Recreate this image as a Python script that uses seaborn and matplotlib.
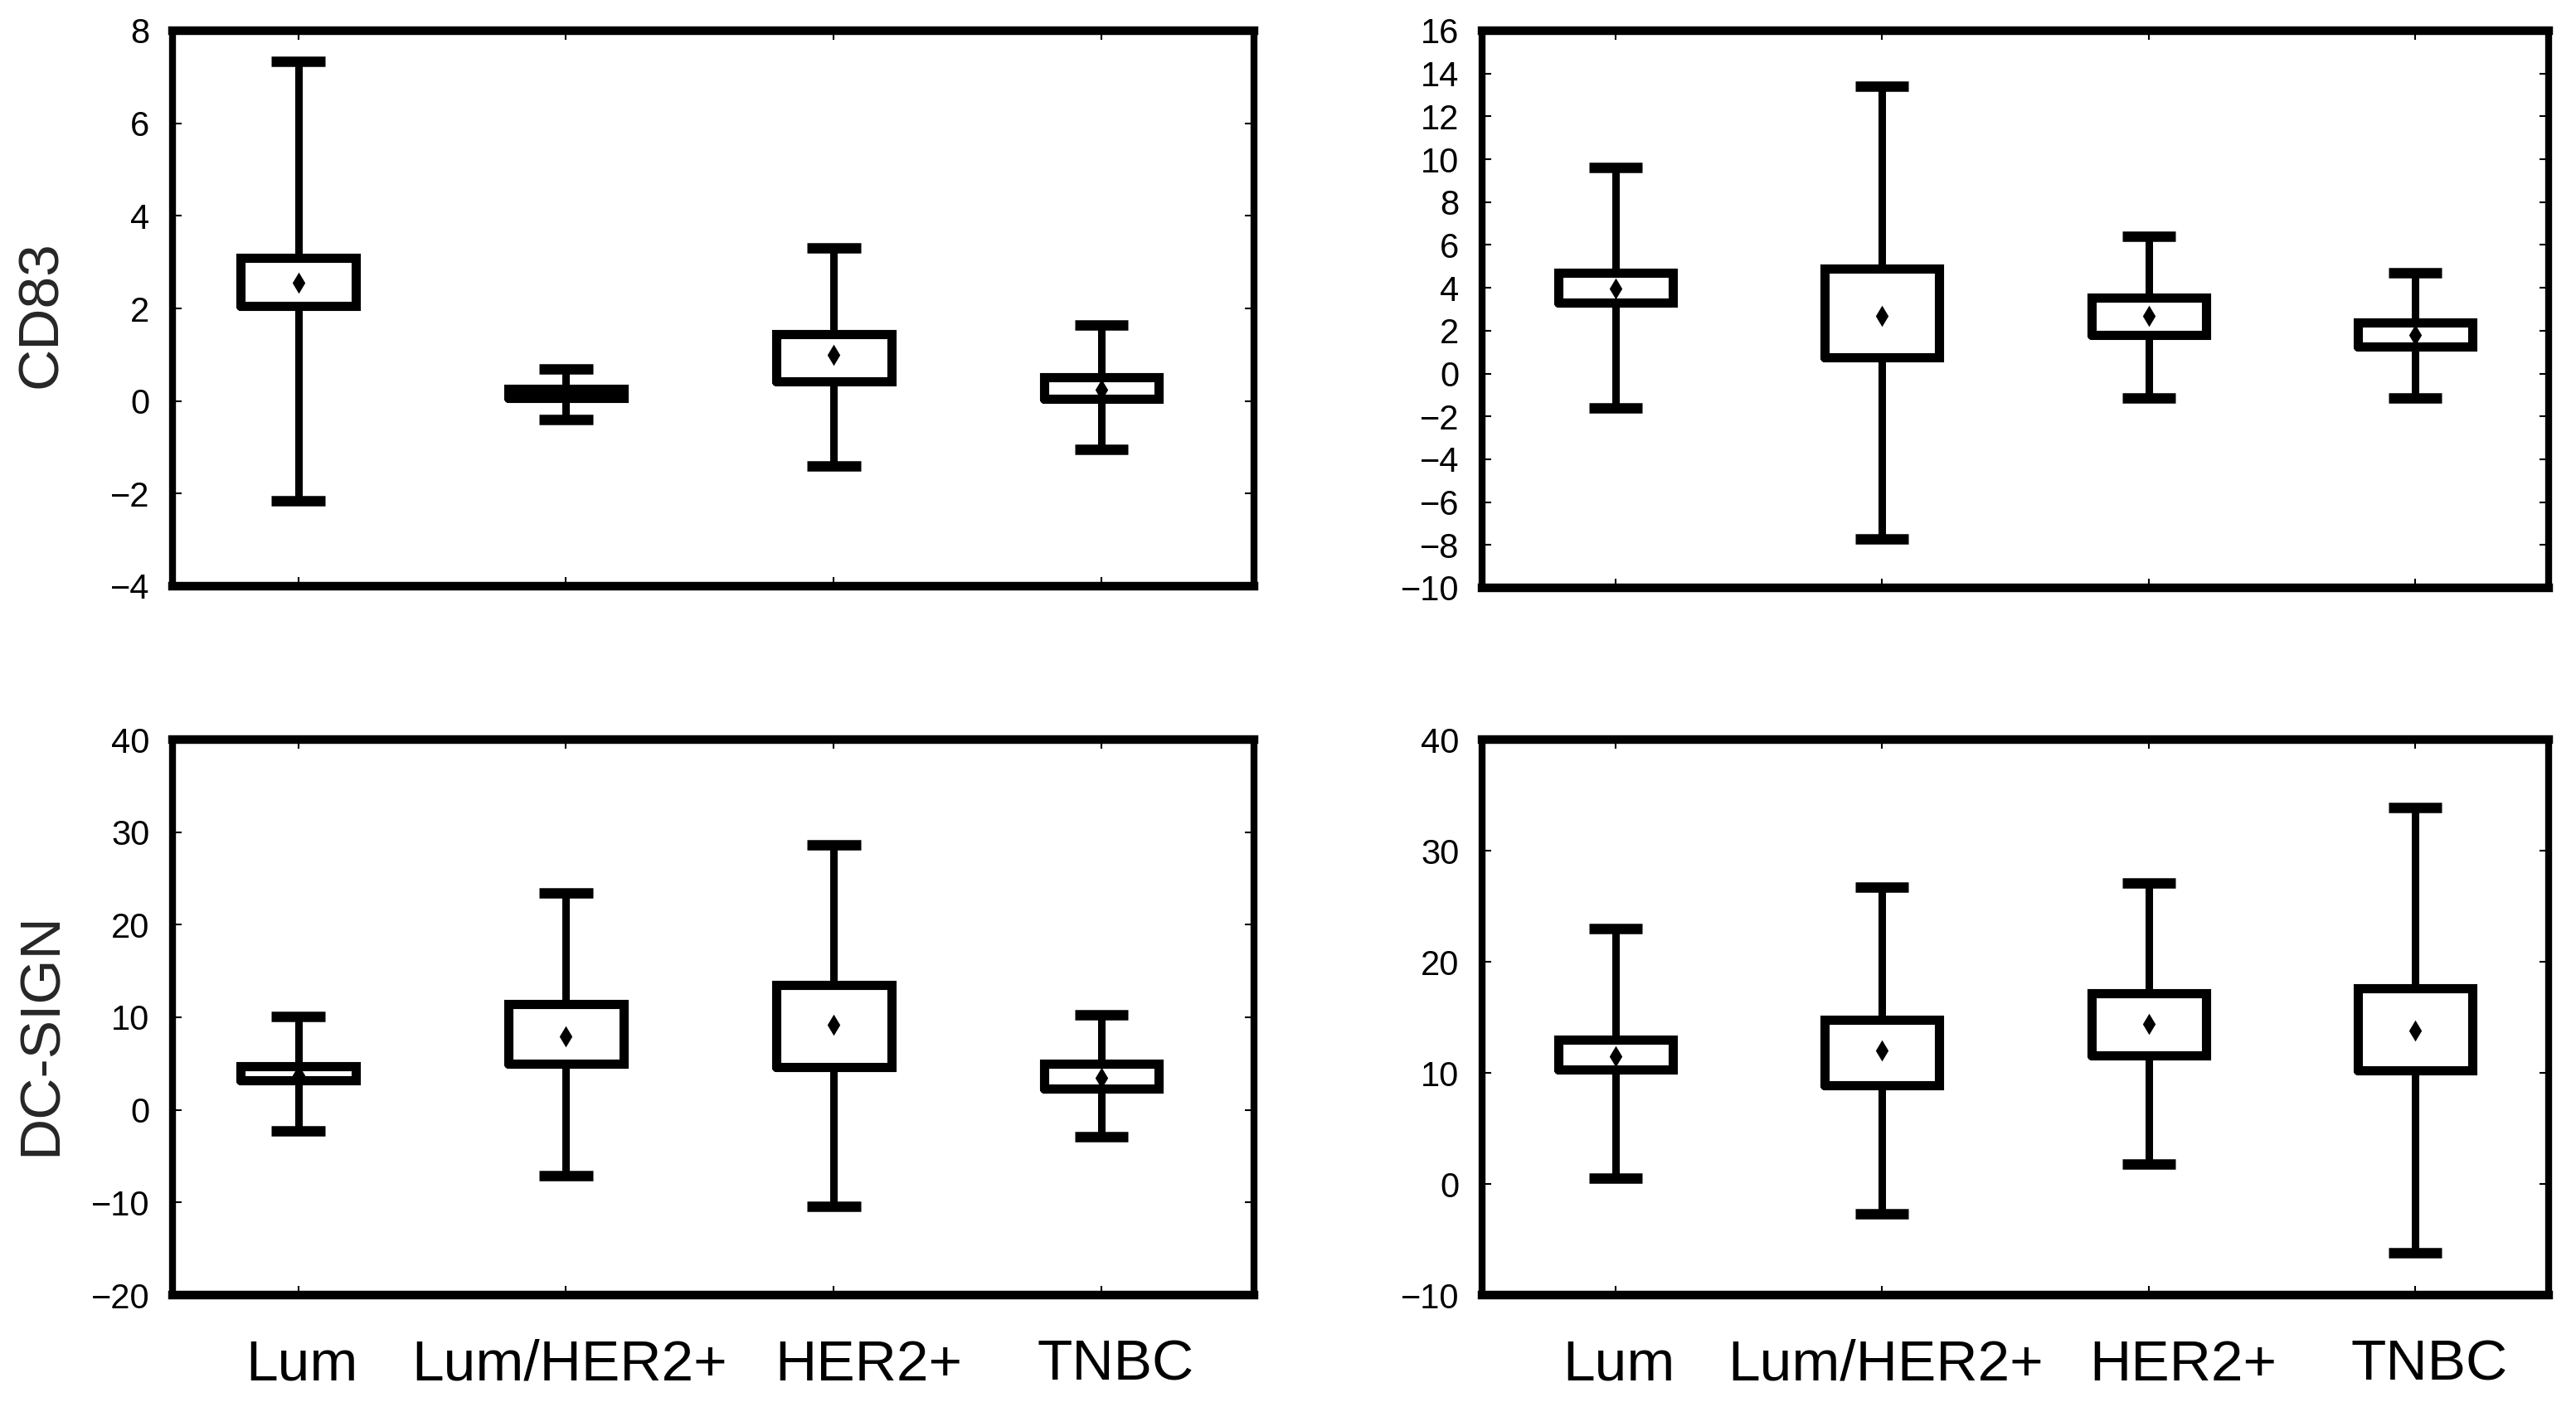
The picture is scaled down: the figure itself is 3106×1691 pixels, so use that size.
import matplotlib
matplotlib.use('Agg')
import matplotlib.pyplot as plt
import matplotlib.transforms as mtransforms
import seaborn as sns

# groups on the x axis
groups = ['Lum', 'Lum/HER2+', 'HER2+', 'TNBC']

# CD83 - left panel (mean, box low/high, whisker low/high)
cd83_l_mean = [2.55, 0.18, 1.0, 0.25]
cd83_l_lo = [2.05, 0.06, 0.42, 0.05]
cd83_l_hi = [3.1, 0.26, 1.45, 0.52]
cd83_l_min = [-2.15, -0.4, -1.4, -1.05]
cd83_l_max = [7.33, 0.7, 3.3, 1.65]

# CD83 - right panel
cd83_r_mean = [3.95, 2.7, 2.7, 1.8]
cd83_r_lo = [3.3, 0.75, 1.8, 1.25]
cd83_r_hi = [4.7, 4.9, 3.55, 2.4]
cd83_r_min = [-1.6, -7.7, -1.15, -1.15]
cd83_r_max = [9.6, 13.4, 6.4, 4.7]

# DC-SIGN - left panel
dcsign_l_mean = [3.7, 7.9, 9.2, 3.5]
dcsign_l_lo = [3.2, 5.0, 4.6, 2.3]
dcsign_l_hi = [4.7, 11.4, 13.5, 5.0]
dcsign_l_min = [-2.3, -7.1, -10.4, -2.9]
dcsign_l_max = [10.1, 23.4, 28.6, 10.3]

# DC-SIGN - right panel
dcsign_r_mean = [11.5, 12.0, 14.4, 13.8]
dcsign_r_lo = [10.3, 8.9, 11.6, 10.2]
dcsign_r_hi = [13.0, 14.8, 17.2, 17.6]
dcsign_r_min = [0.5, -2.7, 1.8, -6.2]
dcsign_r_max = [23.0, 26.7, 27.1, 33.9]

sns.set_style('ticks')
plt.rcParams['font.family'] = ['Liberation Sans', 'DejaVu Sans']

# the category labels sit a little right of their ticks in the original (points)
label_shift = [3, 3, 30, 12]


def draw_panel(ax, means, lo, hi, mn, mx, yticks, xlim, show_x):
    stats = []
    for g, m, l, h, a, b in zip(groups, means, lo, hi, mn, mx):
        stats.append(dict(med=m, q1=l, q3=h, whislo=a, whishi=b, fliers=[], label=g))
    pos = list(range(len(groups)))
    ax.bxp(stats, positions=pos, widths=0.43, capwidths=0.2, showfliers=False,
           boxprops=dict(color='black', linewidth=8, solid_joinstyle='miter'),
           whiskerprops=dict(color='black', linewidth=6.5, solid_capstyle='butt'),
           capprops=dict(color='black', linewidth=9, solid_capstyle='butt'),
           medianprops=dict(visible=False))
    sns.scatterplot(x=pos, y=means, marker='d', color='black', s=170,
                    linewidth=0, ax=ax, zorder=5, legend=False)
    ax.set_ylim(yticks[0], yticks[-1])
    ax.set_yticks(yticks)
    ax.set_xlim(*xlim)
    ax.set_xticks(pos)
    ax.set_xticklabels(groups if show_x else [])
    ax.tick_params(axis='both', direction='in', length=8, width=1.5,
                   top=True, right=True, colors='black')
    ax.tick_params(axis='y', labelsize=30, pad=20)
    ax.tick_params(axis='x', labelsize=50, pad=38, labelbottom=show_x)
    if show_x:
        for lab, dx in zip(ax.get_xticklabels(), label_shift):
            off = mtransforms.ScaledTranslation(dx / 72, 0, ax.figure.dpi_scale_trans)
            lab.set_transform(lab.get_transform() + off)
    for side in ['top', 'bottom']:
        ax.spines[side].set_linewidth(7.5)
    for side in ['left', 'right']:
        ax.spines[side].set_linewidth(6)
    for sp in ax.spines.values():
        sp.set_visible(True)
        sp.set_color('black')
        sp.set_capstyle('projecting')
    ax.set_facecolor('white')


fig = plt.figure(figsize=(31.06, 16.91), dpi=100)
W, H = 3106, 1691


def rect(l, r, t, b):
    return [l / W, 1 - b / H, (r - l) / W, (b - t) / H]


ax1 = fig.add_axes(rect(208, 1512, 37, 707))
ax2 = fig.add_axes(rect(1787, 3073, 37, 709))
ax3 = fig.add_axes(rect(208, 1512, 892, 1562))
ax4 = fig.add_axes(rect(1787, 3073, 892, 1562))

draw_panel(ax1, cd83_l_mean, cd83_l_lo, cd83_l_hi, cd83_l_min, cd83_l_max,
           list(range(-4, 9, 2)), (-0.47, 3.57), False)
draw_panel(ax2, cd83_r_mean, cd83_r_lo, cd83_r_hi, cd83_r_min, cd83_r_max,
           list(range(-10, 17, 2)), (-0.5, 3.5), False)
draw_panel(ax3, dcsign_l_mean, dcsign_l_lo, dcsign_l_hi, dcsign_l_min, dcsign_l_max,
           list(range(-20, 41, 10)), (-0.47, 3.57), True)
draw_panel(ax4, dcsign_r_mean, dcsign_r_lo, dcsign_r_hi, dcsign_r_min, dcsign_r_max,
           list(range(-10, 41, 10)), (-0.5, 3.5), True)

ax1.set_ylabel('CD83', fontsize=50)
ax1.yaxis.set_label_coords(-0.097, 0.49)
ax3.set_ylabel('DC-SIGN', fontsize=50)
ax3.yaxis.set_label_coords(-0.097, 0.47)

fig.savefig('out.png', dpi=100, facecolor='white')
